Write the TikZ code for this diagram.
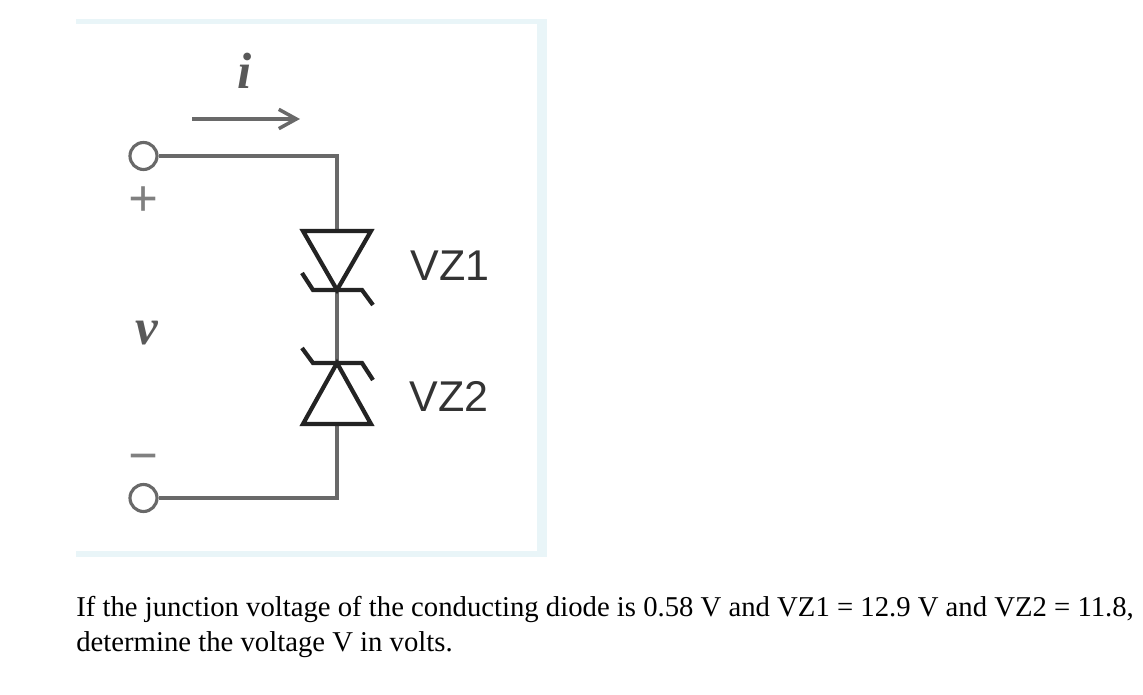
\documentclass[tikz,border=0pt]{standalone}
\usepackage{fontspec}
\usetikzlibrary{arrows.meta}
\setmainfont{Liberation Serif}
\setsansfont{Liberation Sans}
\definecolor{panelblue}{RGB}{233,245,248}
\definecolor{wiregray}{RGB}{105,105,105}
\definecolor{diodeblack}{RGB}{35,35,35}
\tikzset{
  panelband/.style={fill=panelblue,draw=none},
  wire/.style={draw=wiregray,line width=2pt},
  diode/.style={draw=diodeblack,line width=2.4pt,line join=miter},
  terminal/.style={circle,draw=wiregray,line width=1.8pt,fill=white,minimum size=0.54cm,inner sep=0pt},
  zlabel/.style={font=\sffamily\fontsize{24.5}{24.5}\selectfont,text=black!80,inner sep=0pt},
  mathlabel/.style={font=\itshape\bfseries\fontsize{29}{29}\selectfont,text=black!65,inner sep=0pt},
  signlabel/.style={font=\bfseries\fontsize{30}{30}\selectfont,text=black!50,inner sep=0pt},
  question/.style={font=\fontsize{16.34}{18}\selectfont,anchor=base west,inner sep=0pt}
}
\begin{document}
\begin{tikzpicture}[x=0.02cm,y=-0.02cm]
  \useasboundingbox (0,0) rectangle (1143,695);
  % panel
  \fill[panelband] (76,19) rectangle (547,24);
  \fill[panelband] (537,19) rectangle (547,557);
  \fill[panelband] (76,551) rectangle (547,557);
  % terminals
  \node[terminal] (termtop) at (143.5,156) {};
  \node[terminal] (termbot) at (143.5,498) {};
  % corners and diode ends
  \coordinate (cornertop) at (337,156);
  \coordinate (cornerbot) at (337,498);
  \coordinate (zonetop) at (337,231);
  \coordinate (ztwobot) at (337,424);
  \coordinate (zoneapex) at (337,290);
  \coordinate (ztwoapex) at (337,363);
  % wires
  \draw[wire] (termtop) -- (cornertop) -- (zonetop);
  \draw[wire] (termbot) -- (cornerbot) -- (ztwobot);
  \draw[wire] (zoneapex) -- (ztwoapex);
  % diode VZ1
  \draw[diode] (303,231) -- (371,231) -- (zoneapex) -- cycle;
  \draw[diode] (302,273) -- (313,290) -- (362,290) -- (373,305);
  % diode VZ2
  \draw[diode] (303,424) -- (371,424) -- (ztwoapex) -- cycle;
  \draw[diode] (302,348) -- (313,363) -- (362,363) -- (373,380);
  % current arrow
  \coordinate (arrowstart) at (192,119);
  \coordinate (arrowend) at (300,119);
  \draw[wire,-{Straight Barb[length=10pt,width=11pt]}] (arrowstart) -- (arrowend);
  % labels
  \node[mathlabel] (ilabel) at (245,71) {i};
  \node[mathlabel] (vlabel) at (147,333) {v};
  \node[signlabel] (plus) at (143.5,202) {+};
  \node[signlabel] (minus) at (143.5,464) {−};
  \node[zlabel,anchor=west] (zonelabel) at (410,266) {VZ1};
  \node[zlabel,anchor=west] (ztwolabel) at (409,396) {VZ2};
  % question text
  \node[question] (lineone) at (76,617) {If the junction voltage of the conducting diode is 0.58 V and VZ1 = 12.9 V and VZ2 = 11.8,};
  \node[question] (linetwo) at (76,651) {determine the voltage V in volts.};
\end{tikzpicture}
\end{document}
